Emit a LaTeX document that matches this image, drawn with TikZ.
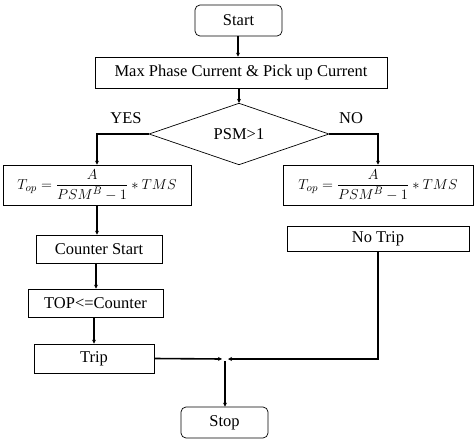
\documentclass[tikz,border=0pt]{standalone}
\usepackage{fontspec}
\setmainfont{Liberation Serif}
\usetikzlibrary{shapes.geometric,arrows.meta}
\begin{document}
\begin{tikzpicture}[x=1pt,y=-1pt,
		every node/.style = {font=\fontsize{16.5}{19}\selectfont, inner sep=2pt},
		box/.style = {shape=rectangle, draw, line width=0.7pt, align=center},
		term/.style = {box, rounded corners=5pt, minimum width=87pt, minimum height=31pt},
		cond/.style = {shape=diamond, draw, line width=0.7pt, minimum width=180pt, minimum height=50pt, inner sep=0pt},
		flow/.style = {line width=1.6pt, -{Stealth[length=4pt,width=4pt]}}]
	\useasboundingbox (0,0) rectangle (474,442);
	\node[term] (start) at (238.5,20.5) {Start};
	\node[box, minimum width=292pt, minimum height=31pt] (maxcur) at (241,72.5) {Max Phase Current \& Pick up Current};
	\node[cond] (psm) at (239,134) {PSM>1};
	\node[box, minimum width=188pt, minimum height=40pt] (ftl) at (97,185)
		{\fontsize{15.5}{18}\selectfont$\displaystyle T_{op}=\frac{A}{PSM^{B}-1}*TMS$};
	\node[box, minimum width=190pt, minimum height=40pt] (ftr) at (378,185)
		{\fontsize{15.5}{18}\selectfont$\displaystyle T_{op}=\frac{A}{PSM^{B}-1}*TMS$};
	\node[box, minimum width=126pt, minimum height=28pt] (cstart) at (99,249) {Counter Start};
	\node[box, minimum width=135pt, minimum height=28pt] (topc) at (95.5,303) {TOP<=Counter};
	\node[box, minimum width=120pt, minimum height=29pt] (trip) at (94,358.5) {Trip};
	\node[box, minimum width=182pt, minimum height=25pt] (notrip) at (378,238.5) {No Trip};
	\node[term] (stop) at (224.5,422.5) {Stop};
	\coordinate (merge) at (225,359);
	% labels of the branches
	\node (yes) at (126,118) {YES};
	\node (no) at (351,118) {NO};
	% connectors
	\draw[flow] (start.south -| 238,0) -- (maxcur.north -| 238,0);
	\draw[flow] (maxcur.south -| psm) -- (psm.north);
	\draw[flow] (psm.west) -| (ftl.north);
	\draw[flow] (psm.east) -| (ftr.north);
	\draw[flow] (ftl.south) -- (ftl.south |- cstart.north);
	\draw[flow] (cstart.south -| 96,0) -- (topc.north -| 96,0);
	\draw[flow] (topc.south -| 94,0) -- (trip.north -| 94,0);
	\draw[flow] (notrip.south) |- ([xshift=3pt]merge);
	\draw[flow] (trip.east) -- ([xshift=-3pt]merge);
	\draw[flow] ([yshift=-2pt]merge) -- (stop.north -| merge);
\end{tikzpicture}
\end{document}
